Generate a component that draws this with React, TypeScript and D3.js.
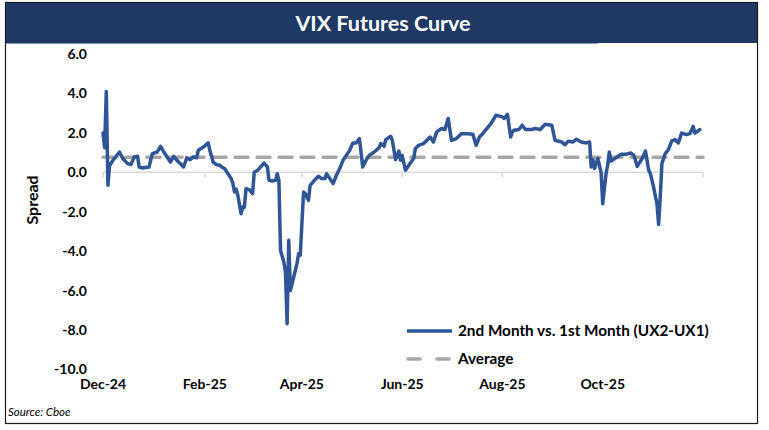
import React from 'react';
import * as d3 from 'd3';

// VIX futures: 2nd month minus 1st month (UX2-UX1)
const dates = [
  '2024-12-01', '2024-12-02', '2024-12-03', '2024-12-04', '2024-12-05', '2024-12-07', '2024-12-11', '2024-12-13',
  '2024-12-16', '2024-12-18', '2024-12-20', '2024-12-22', '2024-12-23', '2024-12-25', '2024-12-29', '2024-12-31',
  '2025-01-03', '2025-01-05', '2025-01-07', '2025-01-09', '2025-01-11', '2025-01-13', '2025-01-15', '2025-01-17',
  '2025-01-19', '2025-01-21', '2025-01-23', '2025-01-25', '2025-01-27', '2025-01-28', '2025-01-31', '2025-02-03',
  '2025-02-04', '2025-02-06', '2025-02-08', '2025-02-10', '2025-02-12', '2025-02-13', '2025-02-15', '2025-02-17',
  '2025-02-18', '2025-02-19', '2025-02-20', '2025-02-21', '2025-02-23', '2025-02-24', '2025-02-25', '2025-02-26',
  '2025-02-28', '2025-03-02', '2025-03-03', '2025-03-05', '2025-03-09', '2025-03-11', '2025-03-12', '2025-03-14',
  '2025-03-16', '2025-03-17', '2025-03-18', '2025-03-19', '2025-03-21', '2025-03-22', '2025-03-23', '2025-03-24',
  '2025-03-25', '2025-03-26', '2025-03-29', '2025-03-30', '2025-03-31', '2025-04-02', '2025-04-03', '2025-04-05',
  '2025-04-06', '2025-04-09', '2025-04-11', '2025-04-13', '2025-04-15', '2025-04-16', '2025-04-18', '2025-04-20',
  '2025-04-22', '2025-04-24', '2025-04-26', '2025-04-28', '2025-04-30', '2025-05-02', '2025-05-04', '2025-05-06',
  '2025-05-08', '2025-05-10', '2025-05-12', '2025-05-15', '2025-05-18', '2025-05-19', '2025-05-21', '2025-05-22',
  '2025-05-25', '2025-05-26', '2025-05-28', '2025-05-29', '2025-05-30', '2025-05-31', '2025-06-01', '2025-06-03',
  '2025-06-06', '2025-06-08', '2025-06-09', '2025-06-11', '2025-06-14', '2025-06-16', '2025-06-18', '2025-06-20',
  '2025-06-22', '2025-06-25', '2025-06-27', '2025-06-29', '2025-07-01', '2025-07-04', '2025-07-07', '2025-07-11',
  '2025-07-14', '2025-07-16', '2025-07-18', '2025-07-20', '2025-07-22', '2025-07-25', '2025-07-28', '2025-08-01',
  '2025-08-02', '2025-08-04', '2025-08-06', '2025-08-07', '2025-08-08', '2025-08-11', '2025-08-13', '2025-08-15',
  '2025-08-19', '2025-08-21', '2025-08-24', '2025-08-27', '2025-08-31', '2025-09-02', '2025-09-06', '2025-09-08',
  '2025-09-10', '2025-09-13', '2025-09-15', '2025-09-18', '2025-09-21', '2025-09-23', '2025-09-24', '2025-09-25',
  '2025-09-26', '2025-09-28', '2025-09-30', '2025-10-01', '2025-10-03', '2025-10-04', '2025-10-05', '2025-10-06',
  '2025-10-09', '2025-10-12', '2025-10-15', '2025-10-18', '2025-10-20', '2025-10-22', '2025-10-23', '2025-10-25',
  '2025-10-27', '2025-10-29', '2025-10-30', '2025-11-01', '2025-11-02', '2025-11-03', '2025-11-04', '2025-11-05',
  '2025-11-06', '2025-11-08', '2025-11-10', '2025-11-12', '2025-11-14', '2025-11-16', '2025-11-18', '2025-11-21',
  '2025-11-23', '2025-11-25', '2025-11-26', '2025-11-28', '2025-11-29',
];

const spread = [
  2.0, 1.25, 4.1, -0.65, 0.35, 0.6, 1.03, 0.7,
  0.44, 0.39, 0.78, 0.81, 0.27, 0.22, 0.27, 0.95,
  1.03, 1.32, 1.03, 0.78, 0.52, 0.81, 0.61, 0.44,
  0.27, 0.74, 0.64, 0.78, 0.74, 1.12, 1.28, 1.49,
  1.12, 0.52, 0.39, 0.36, 0.22, 0.19, -0.07, -0.32,
  -0.57, -1.0, -0.85, -1.15, -2.1, -1.76, -1.78, -0.83,
  -0.88, -1.08, 0.0, 0.1, 0.47, 0.27, -0.41, -0.44,
  -0.41, -0.07, -0.41, -3.96, -4.55, -5.06, -7.68, -3.45,
  -6.0, -5.65, -4.63, -4.13, -4.2, -1.0, -1.08, -1.42,
  -0.66, -0.37, -0.2, -0.32, -0.32, -0.07, -0.32, -0.57,
  -0.15, 0.19, 0.61, 0.86, 1.1, 1.49, 1.49, 1.71,
  0.27, 0.61, 0.86, 1.03, 1.25, 1.46, 1.32, 1.66,
  1.83, 1.62, 0.64, 0.86, 1.08, 0.61, 0.86, 0.1,
  0.47, 0.7, 1.2, 1.37, 1.46, 1.62, 1.79, 1.54,
  2.05, 2.22, 2.17, 2.73, 1.62, 1.71, 1.96, 1.96,
  1.93, 1.37, 1.79, 1.96, 2.17, 2.47, 2.89, 2.81,
  2.73, 2.94, 1.79, 2.05, 2.13, 2.17, 2.39, 2.17,
  2.17, 2.22, 2.17, 2.44, 2.39, 1.62, 1.54, 1.4,
  1.58, 1.54, 1.68, 1.54, 1.49, 1.54, 0.27, 0.64,
  0.19, 0.7, 0.0, -1.59, -0.07, 0.36, 1.03, 0.57,
  0.74, 0.91, 0.91, 0.98, 0.86, 0.3, 0.44, 0.7,
  1.08, 0.1, -0.07, -0.78, -1.2, -1.59, -2.64, -1.25,
  0.44, 0.95, 1.15, 1.59, 1.66, 1.49, 1.99, 1.91,
  1.96, 2.33, 1.99, 2.09, 2.17,
];

const averageValue = 0.76;

const xTickDates = ['2024-12-01', '2025-02-01', '2025-04-01', '2025-06-01', '2025-08-01', '2025-10-01', '2025-12-01'];
const xTickLabels = ['Dec-24', 'Feb-25', 'Apr-25', 'Jun-25', 'Aug-25', 'Oct-25', ''];
const yTicks = [6, 4, 2, 0, -2, -4, -6, -8, -10];

const seriesName = '2nd Month vs. 1st Month (UX2-UX1)';
const averageName = 'Average';

const W = 769;
const H = 430;
const FONT = 'Lato, "Open Sans", sans-serif';
const BLUE = '#2F5597';
const GREY = '#A6A6A6';

const parse = d3.timeParse('%Y-%m-%d');

export default function App() {
  const points = dates.map((d, i) => ({ date: parse(d) as Date, value: spread[i] }));

  const x = d3.scaleTime()
    .domain([parse(xTickDates[0]) as Date, parse(xTickDates[xTickDates.length - 1]) as Date])
    .range([103, 703]);

  const y = d3.scaleLinear().domain([-10, 6]).range([369.5, 54]);

  const line = d3.line<{ date: Date; value: number }>()
    .x(d => x(d.date))
    .y(d => y(d.value));

  const x0 = x.range()[0];
  const x1 = x.range()[1];

  return (
    <svg width={W} height={H} style={{ position: 'absolute', left: 0, top: 0, background: '#fff' }}>
      {/* frame + title band */}
      <rect x={5.5} y={2.5} width={752} height={421} fill="#fff" stroke="#1a1a1a" strokeWidth={1.2} />
      <rect x={6} y={3} width={751} height={40} fill="#203864" />
      <line x1={6} x2={598} y1={43.5} y2={43.5} stroke="#8497B0" strokeWidth={1} />
      <text x={383} y={30.5} textAnchor="middle" fill="#fff" fontFamily={FONT} fontWeight={700} fontSize={21.5}>
        VIX Futures Curve
      </text>

      {/* y axis labels */}
      {yTicks.map(t => (
        <text key={t} x={87} y={y(t)} dy="0.35em" textAnchor="end" fontFamily={FONT} fontWeight={700} fontSize={14} fill="#000">
          {t.toFixed(1)}
        </text>
      ))}
      <text
        transform={`translate(38, ${y(-1.4)}) rotate(-90)`}
        textAnchor="middle"
        fontFamily={FONT}
        fontWeight={700}
        fontSize={16}
        fill="#000"
      >
        Spread
      </text>

      {/* zero axis with ticks */}
      <line x1={x0} x2={x1} y1={y(0)} y2={y(0)} stroke="#D9D9D9" strokeWidth={1.5} />
      {xTickDates.map((d, i) => {
        const px = x(parse(d) as Date);
        return (
          <g key={d}>
            <line x1={px} x2={px} y1={y(0)} y2={y(0) + 5} stroke="#D9D9D9" strokeWidth={1.5} />
            <text x={px} y={384} dy="0.35em" textAnchor="middle" fontFamily={FONT} fontWeight={700} fontSize={14} fill="#000">
              {xTickLabels[i]}
            </text>
          </g>
        );
      })}

      {/* average */}
      <line
        x1={x0}
        x2={x1}
        y1={y(averageValue)}
        y2={y(averageValue)}
        stroke={GREY}
        strokeWidth={3.5}
        strokeDasharray="13,9"
        strokeLinecap="round"
      />

      {/* spread series */}
      <path d={line(points) ?? ''} fill="none" stroke={BLUE} strokeWidth={3.5} strokeLinejoin="round" strokeLinecap="round" />

      {/* legend */}
      <line x1={407} x2={452} y1={331} y2={331} stroke={BLUE} strokeWidth={3.5} />
      <text x={458} y={331} dy="0.35em" fontFamily={FONT} fontWeight={700} fontSize={15.3} fill="#000">
        {seriesName}
      </text>
      <line x1={408} x2={450} y1={359} y2={359} stroke={GREY} strokeWidth={3.5} strokeDasharray="12,17" strokeLinecap="round" />
      <text x={458} y={359} dy="0.35em" fontFamily={FONT} fontWeight={700} fontSize={15.3} fill="#000">
        {averageName}
      </text>

      <text x={8} y={416} fontFamily={FONT} fontStyle="italic" fontSize={11.5} fill="#000">
        Source: Cboe
      </text>
    </svg>
  );
}
